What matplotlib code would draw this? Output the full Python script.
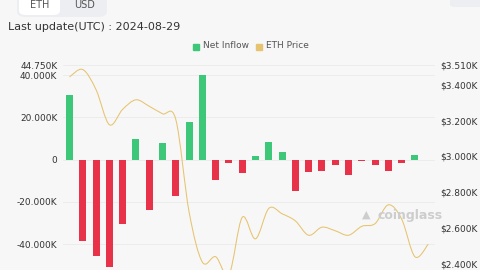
import matplotlib.pyplot as plt
import numpy as np
from matplotlib.patches import FancyBboxPatch, PathPatch
from matplotlib.path import Path

# Daten
net_inflow = [30.4, -38.4, -45.8, -51.1, -30.3, 9.7, -23.7, 7.8, -17.1, 17.6,
              40.0, -9.9, -1.6, -6.3, 1.6, 8.5, 3.4, -15.1, -6.1, -5.5,
              -2.8, -7.2, -0.5, -2.4, -5.2, -1.6, 2.0, 0.0]  # in K
eth_price = [3.444, 3.485, 3.372, 3.177, 3.263, 3.316, 3.280, 3.238, 3.206, 2.69,
             2.41, 2.44, 2.34, 2.66, 2.54, 2.71, 2.68, 2.64, 2.56, 2.605,
             2.585, 2.56, 2.61, 2.625, 2.73, 2.65, 2.44, 2.51]  # in K USD
left_ticks = [44.75, 40, 20, 0, -20, -40]
left_labels = ["44.750K", "40.000K", "20.000K", "0", "-20.000K", "-40.000K"]
right_ticks = [3.51, 3.4, 3.2, 3.0, 2.8, 2.6, 2.4]
right_labels = ["$3.510K", "$3.400K", "$3.200K", "$3.000K", "$2.800K", "$2.600K", "$2.400K"]

green = "#3cc878"
red = "#e8324a"
gold = "#e6c36f"
bg = "#f7f7f7"
txt = "#333333"

fig = plt.figure(figsize=(4.8, 2.7), dpi=100, facecolor=bg)
ax = fig.add_axes([0.131, 0.0, 0.775, 0.759], facecolor=bg)
ax2 = ax.twinx()

x = np.arange(len(net_inflow))
colors = [green if v >= 0 else red for v in net_inflow]
ax.bar(x, net_inflow, width=0.52, color=colors, zorder=3)

for t in left_ticks:
    ax.axhline(t, color="#ebebeb", lw=0.6, zorder=0)

# glatte Linie (Catmull-Rom als Bezier)
pts = np.column_stack([x, eth_price])
verts = [pts[0]]
codes = [Path.MOVETO]
for i in range(len(pts) - 1):
    p0 = pts[max(i - 1, 0)]
    p1 = pts[i]
    p2 = pts[i + 1]
    p3 = pts[min(i + 2, len(pts) - 1)]
    verts += [p1 + (p2 - p0) / 6, p2 - (p3 - p1) / 6, p2]
    codes += [Path.CURVE4] * 3
ax2.add_patch(PathPatch(Path(verts, codes), fill=False, ec=gold, lw=0.75, zorder=4))

ax.set_xlim(-0.5, len(x) - 0.5)
ax.set_ylim(-52.3, 44.75)
ax2.set_ylim(2.366, 3.51)

ax.set_yticks(left_ticks, left_labels)
ax2.set_yticks(right_ticks, right_labels)
ax.set_xticks([])
for a in (ax, ax2):
    a.tick_params(length=0, labelsize=6.5, labelcolor=txt, pad=4)
    for s in a.spines.values():
        s.set_visible(False)

# Legende
fig.patches.append(plt.Rectangle((193 / 480, 1 - 50 / 270), 6 / 480, 6 / 270,
                                 transform=fig.transFigure, color=green))
fig.text(203 / 480, 1 - 45 / 270, "Net Inflow", fontsize=6.5, color="#555555", va="center")
fig.patches.append(plt.Rectangle((256 / 480, 1 - 50 / 270), 6 / 480, 6 / 270,
                                 transform=fig.transFigure, color=gold))
fig.text(266 / 480, 1 - 45 / 270, "ETH Price", fontsize=6.5, color="#555555", va="center")

# Reiter oben
fig.patches.append(FancyBboxPatch((17 / 480, 1 - 17 / 270), 90 / 480, 25 / 270,
                                  boxstyle="round,pad=0,rounding_size=0.02",
                                  transform=fig.transFigure, fc="#eceef1", ec="none"))
fig.patches.append(FancyBboxPatch((19 / 480, 1 - 15 / 270), 41 / 480, 22 / 270,
                                  boxstyle="round,pad=0,rounding_size=0.015",
                                  transform=fig.transFigure, fc="white", ec="none"))
fig.text(40 / 480, 1 - 5 / 270, "ETH", fontsize=7, color="#555555", ha="center", va="center")
fig.text(85 / 480, 1 - 5 / 270, "USD", fontsize=7, color="#555555", ha="center", va="center")
fig.patches.append(FancyBboxPatch((450 / 480, 1 - 7 / 270), 40 / 480, 15 / 270,
                                  boxstyle="round,pad=0,rounding_size=0.01",
                                  transform=fig.transFigure, fc="#eceef1", ec="none"))

fig.text(8 / 480, 1 - 27 / 270, "Last update(UTC) : 2024-08-29", fontsize=8,
         color=txt, va="center")

# Wasserzeichen
fig.text(378 / 480, 1 - 216 / 270, "coinglass", fontsize=9, color="#cdcdcd",
         fontweight="bold", va="center", ha="left")
fig.text(366 / 480, 1 - 215 / 270, "\u25B2", fontsize=8, color="#cdcdcd",
         va="center", ha="center")

fig.savefig("out.png", dpi=100, facecolor=bg)
